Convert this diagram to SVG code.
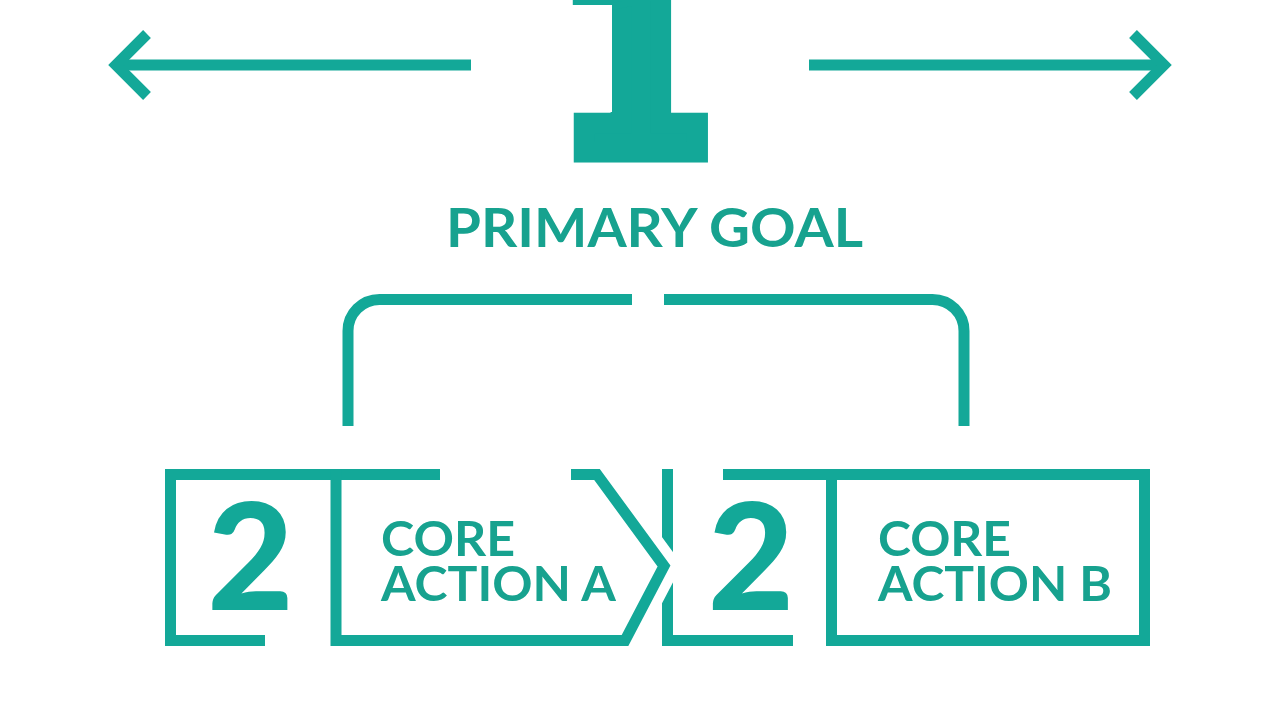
<svg xmlns="http://www.w3.org/2000/svg" width="1280" height="720" viewBox="0 0 1280 720">
  <style>
    .ln { fill: none; stroke: #13a898; stroke-width: 11; stroke-linecap: butt; stroke-linejoin: miter; stroke-miterlimit: 10; }
    .gap { fill: none; stroke: #ffffff; stroke-width: 31; stroke-linejoin: miter; }
    .lbl { font-family: Lato, "Open Sans", "Liberation Sans", sans-serif; font-weight: 700; fill: #17a28f; }
    .num { font-family: Lato, "Open Sans", "Liberation Sans", sans-serif; font-weight: 900; fill: #13a898; text-anchor: middle; }
  </style>
  <defs>
    <clipPath id="oneClip">
      <rect x="0" y="-60" width="1280" height="65"/>
      <rect x="612" y="0" width="61" height="170"/>
      <rect x="560" y="112" width="170" height="60"/>
    </clipPath>
  </defs>
  <rect width="1280" height="720" fill="#ffffff"/>

  <g id="connectors">
    <path class="ln" d="M471 65 H118"/>
    <path class="ln" d="M147 34 L116 65 L147 96"/>
    <path class="ln" d="M809 65 H1162"/>
    <path class="ln" d="M1133 34 L1164 65 L1133 96"/>
    <path class="ln" d="M348 426 V331 A31.5 31.5 0 0 1 379.5 299.5 H632"/>
    <path class="ln" d="M964 426 V331 A31.5 31.5 0 0 0 932.5 299.5 H664"/>
  </g>

  <g id="primary-goal">
    <text x="635.5" y="151.5" clip-path="url(#oneClip)" font-family="'DejaVu Sans', sans-serif" font-weight="700" font-size="222" fill="#13a898" stroke="#13a898" stroke-width="21" stroke-linejoin="miter" text-anchor="middle">1</text>
    <text class="lbl" x="654.5" y="247" font-size="54" text-anchor="middle" textLength="417" lengthAdjust="spacingAndGlyphs">PRIMARY GOAL</text>
  </g>

  <g id="core-action-a">
    <path class="ln" d="M265 640.5 H170.5 V474.5 H440"/>
    <path class="ln" d="M336 469 V646"/>
    <text class="num" x="250.5" y="610" font-size="149">2</text>
    <text class="lbl" font-size="48"><tspan x="381" y="556" textLength="134" lengthAdjust="spacingAndGlyphs">CORE</tspan><tspan x="381" y="601" textLength="235" lengthAdjust="spacingAndGlyphs">ACTION A</tspan></text>
  </g>

  <g id="core-action-b">
    <path class="ln" d="M667.5 469 V640.5 H793"/>
    <path class="gap" d="M571 474.5 H597 L664 566 L625 640.5 H560"/>
    <path class="ln" d="M571 474.5 H597 L664 566 L625 640.5 H336"/>
    <path class="ln" d="M723 474.5 H1144.5 V640.5 H831.5"/>
    <path class="ln" d="M831.5 469 V646"/>
    <text class="num" x="751" y="610" font-size="149">2</text>
    <text class="lbl" font-size="48"><tspan x="878" y="556" textLength="133" lengthAdjust="spacingAndGlyphs">CORE</tspan><tspan x="878" y="601" textLength="234" lengthAdjust="spacingAndGlyphs">ACTION B</tspan></text>
  </g>
</svg>
